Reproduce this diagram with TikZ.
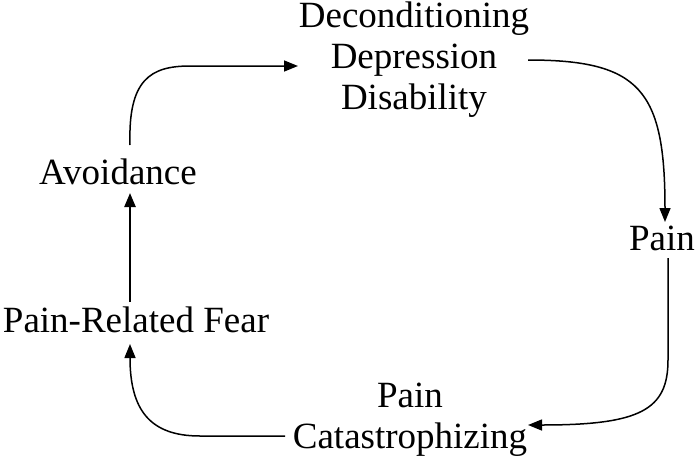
\documentclass[tikz,border=0pt]{standalone}
\usepackage{fontspec}
\setmainfont{Liberation Serif}
\usetikzlibrary{arrows.meta}
\begin{document}
\begin{tikzpicture}[x=1pt,y=-1pt,
  lbl/.style={font=\fontsize{37}{41}\selectfont,align=center,inner sep=0pt},
  arr/.style={line width=1.5pt,-{Triangle[length=14pt,width=11pt]}}]
\useasboundingbox (0,0) rectangle (699,461);
\node[lbl] (dec) at (414,60) {Deconditioning\\Depression\\Disability};
\node[lbl] (avo) at (118,172) {Avoidance};
\node[lbl] (fear) at (136,320) {Pain-Related Fear};
\node[lbl] (pain) at (662,238) {Pain};
\node[lbl] (cat) at (410,420) {Pain\\Catastrophizing};
\coordinate (a1) at (130,145); \coordinate (a2) at (298,66);
\coordinate (b1) at (528,60); \coordinate (b2) at (665,222);
\coordinate (c1) at (668,258); \coordinate (c2) at (528,425);
\coordinate (d1) at (285,436); \coordinate (d2) at (130,344);
\coordinate (e1) at (130,302); \coordinate (e2) at (130,193);
\draw[arr] (a1) .. controls (128,80) and (150,66) .. (190,66) -- (a2);
\draw[arr] (b1) .. controls (640,60) and (665,90) .. (b2);
\draw[arr] (c1) -- (668,360) .. controls (668,410) and (640,425) .. (c2);
\draw[arr] (d1) -- (200,436) .. controls (150,436) and (130,410) .. (d2);
\draw[arr,line width=2.4pt] (e1) -- (e2);
\end{tikzpicture}
\end{document}
